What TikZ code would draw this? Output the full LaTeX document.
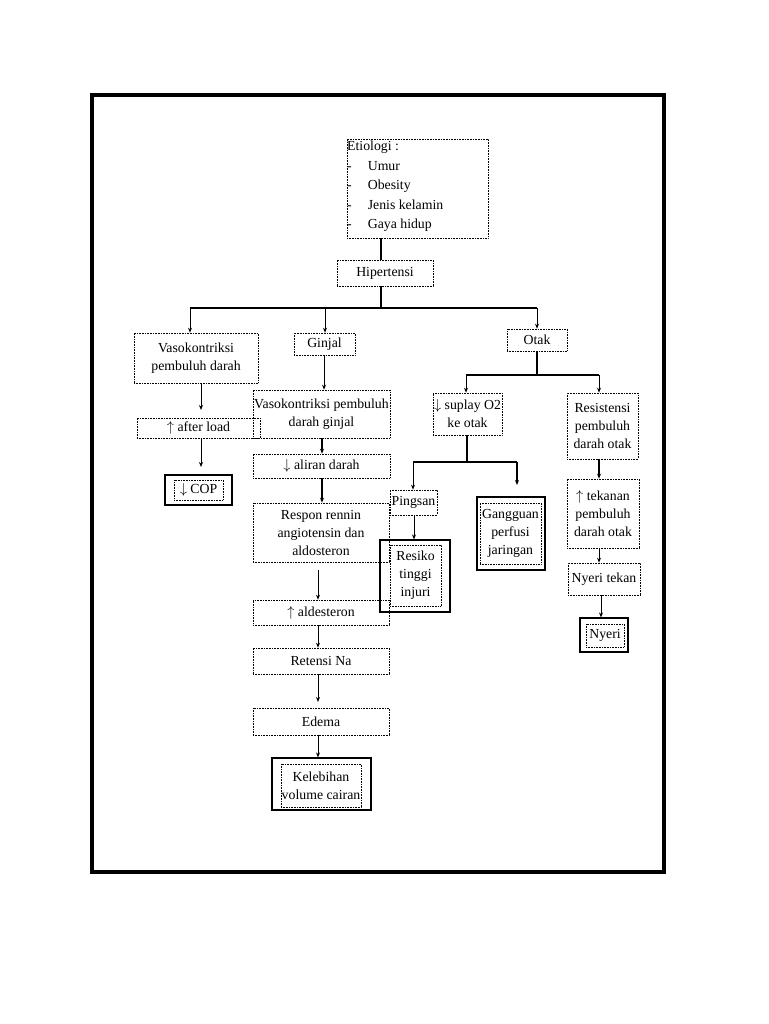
\documentclass[tikz,border=0pt]{standalone}
\usepackage{fontspec}
\setmainfont{Liberation Serif}
\usetikzlibrary{arrows.meta}
\begin{document}
\begin{tikzpicture}[x=1pt,y=-1pt,
  db/.style={draw,densely dotted,line width=0.6pt,inner sep=0pt,align=center,font=\fontsize{13.8}{18}\selectfont},
  sb/.style={draw,solid,line width=1.2pt},
  ar/.style={-{Stealth[length=5pt,width=4pt]},line width=0.8pt},
  tar/.style={-{Stealth[length=5pt,width=4pt]},line width=1.6pt},
  ln/.style={line width=1.2pt}]
\useasboundingbox (0,0) rectangle (768,1024);
\draw[line width=3.5pt] (92,95) rectangle (664,872);
% nodes
\node[db,minimum width=141,minimum height=99,align=left] (eti) at (417.5,188.5) {};
\node[font=\fontsize{13.8}{19.5}\selectfont,align=left,anchor=north west,inner sep=0pt] (etit) at (347,141) {Etiologi :\\-\hspace{16pt}Umur\\-\hspace{16pt}Obesity\\-\hspace{16pt}Jenis kelamin\\-\hspace{16pt}Gaya hidup};
\node[db,minimum width=96,minimum height=26] (hip) at (385,273) {Hipertensi};
\node[db,minimum width=124,minimum height=50] (vas) at (196,358) {Vasokontriksi\\pembuluh darah};
\node[db,minimum width=61,minimum height=22] (gin) at (324.5,344) {Ginjal};
\node[db,minimum width=60,minimum height=22] (otk) at (537,340) {Otak};
\node[db,minimum width=123,minimum height=20] (aft) at (198.5,428) {$\uparrow$ after load};
\node[db,minimum width=137,minimum height=48] (vg) at (321.5,414) {Vasokontriksi pembuluh\\darah ginjal};
\node[sb,minimum width=67,minimum height=30] (copo) at (198.5,490) {};
\node[db,minimum width=49,minimum height=20] (cop) at (198.5,490) {$\downarrow$ COP};
\node[db,minimum width=137,minimum height=24] (ali) at (321.5,466) {$\downarrow$ aliran darah};
\node[db,minimum width=136,minimum height=59] (res) at (321,532.5) {Respon rennin\\angiotensin dan\\aldosteron};
\node[db,minimum width=69,minimum height=42] (sup) at (467.5,414) {$\downarrow$ suplay O2\\ke otak};
\node[db,minimum width=71,minimum height=66] (rsi) at (602.5,426) {Resistensi\\pembuluh\\darah otak};
\node[db,minimum width=47,minimum height=25] (pin) at (413.5,502.5) {Pingsan};
\node[sb,minimum width=68,minimum height=73] (gano) at (511,533.5) {};
\node[db,minimum width=61,minimum height=61] (gan) at (510.5,533.5) {Gangguan\\perfusi\\jaringan};
\node[sb,minimum width=70,minimum height=72] (riso) at (415,576) {};
\node[db,minimum width=51,minimum height=61] (ris) at (415.5,575.5) {Resiko\\tinggi\\injuri};
\node[db,minimum width=72,minimum height=69] (tek) at (603,513.5) {$\uparrow$ tekanan\\pembuluh\\darah otak};
\node[db,minimum width=72,minimum height=32] (nt) at (604,579) {Nyeri tekan};
\node[sb,minimum width=48,minimum height=34] (nyo) at (604,635) {};
\node[db,minimum width=38,minimum height=23] (ny) at (605,635.5) {Nyeri};
\node[db,minimum width=136,minimum height=25] (ald) at (321,612.5) {$\uparrow$ aldesteron};
\node[db,minimum width=136,minimum height=26] (ret) at (321,661) {Retensi Na};
\node[db,minimum width=136,minimum height=27] (ede) at (321,721.5) {Edema};
\node[sb,minimum width=99,minimum height=52] (kelo) at (321.5,784) {};
\node[db,minimum width=80,minimum height=43] (kel) at (321,785.5) {Kelebihan\\volume cairan};
% connectors
\coordinate (j1) at (381,308);
\draw[ln] (eti.south -| 381,0) -- (hip.north -| 381,0);
\draw[ln] (hip.south -| j1) -- (j1);
\draw[ln] (190,308) -- (537,308);
\draw[ar] (190,308) -- (vas.north -| 190,0);
\draw[ar] (325,308) -- (gin.north -| 325,0);
\draw[ar] (537,308) -- (otk.north -| 537,0);
\draw[ar] (vas.south -| 201,0) -- (201,410);
\draw[ar] (aft.south -| 201,0) -- (201,467);
\draw[ar] (gin.south -| 324,0) -- (vg.north -| 324,0);
\draw[tar] (vg.south -| 322,0) -- (ali.north -| 322,0);
\draw[tar] (ali.south -| 322,0) -- (res.north -| 322,0);
\draw[ar] (318,570) -- (ald.north -| 318,0);
\draw[ar] (ald.south -| 318,0) -- (ret.north -| 318,0);
\draw[ar] (ret.south -| 318,0) -- (318,702);
\draw[ar] (ede.south -| 318,0) -- (kelo.north -| 318,0);
\draw[ln] (otk.south -| 537,0) -- (537,375);
\draw[ln] (466,375) -- (599,375);
\draw[ar] (466,375) -- (sup.north -| 466,0);
\draw[ar] (599,375) -- (rsi.north -| 599,0);
\draw[ln] (sup.south -| 467,0) -- (467,462);
\draw[ln] (413,462) -- (517,462);
\draw[ar] (413,462) -- (pin.north -| 413,0);
\draw[tar] (517,462) -- (517,485);
\draw[ar] (pin.south -| 414,0) -- (riso.north -| 414,0);
\draw[tar] (rsi.south -| 599,0) -- (tek.north -| 599,0);
\draw[ar] (tek.south -| 599,0) -- (nt.north -| 599,0);
\draw[ar] (nt.south -| 601,0) -- (nyo.north -| 601,0);
\end{tikzpicture}
\end{document}
